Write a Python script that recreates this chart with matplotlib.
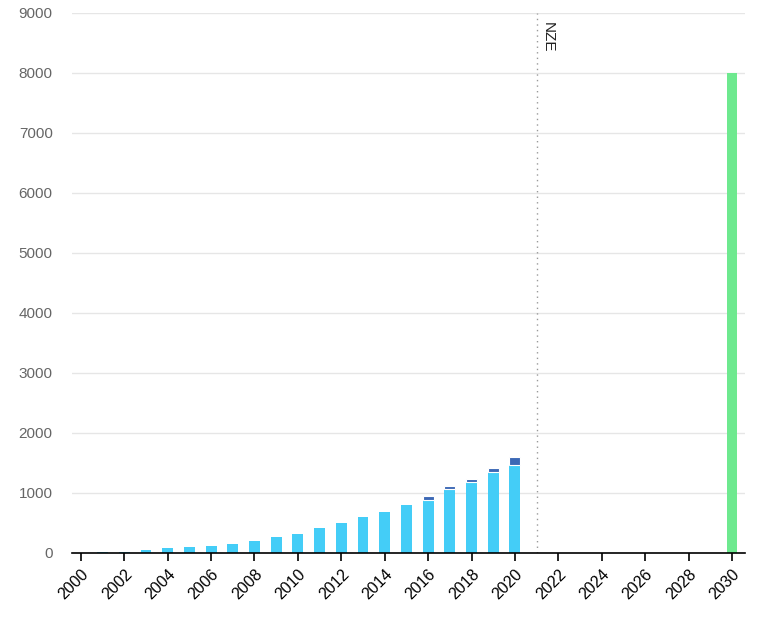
import numpy as np
import matplotlib.pyplot as plt

years = list(range(2001, 2021))
light = [20, 20, 50, 78, 95, 117, 155, 200, 267, 322, 417, 494, 605, 689, 794,
         890, 1070, 1190, 1345, 1470]
dark = [0, 0, 0, 0, 0, 0, 0, 0, 0, 0, 0, 0, 0, 0, 0,
        55, 45, 50, 70, 125]
nze_year = 2030
nze_value = 8000
marker_year = 2021
marker_label = 'NZE'

plt.rcParams['font.family'] = ['Liberation Sans', 'DejaVu Sans']

fig = plt.figure(figsize=(7.68, 6.4), dpi=100)
ax = fig.add_axes([0.094, 0.136, 0.876, 0.844])

ax.bar(years, light, width=0.5, color='#44cdf7', zorder=3)
dk = [d if d > 0 else np.nan for d in dark]
ax.bar(years, dk, width=0.5, bottom=light, color='#3c68b5', edgecolor='white',
       linewidth=0.8, zorder=3)
ax.bar([nze_year], [nze_value], width=0.5, color='#6ee98f', zorder=3)

ax.axvline(marker_year, color='#999999', linestyle=(0, (1, 3)), linewidth=1, zorder=2)
ax.text(marker_year + 0.2, 8850, marker_label, rotation=-90, ha='left', va='top',
        fontsize=11, color='#222222')

ax.set_xlim(1999.6, 2030.6)
ax.set_ylim(0, 9000)
ax.set_yticks(np.arange(0, 9001, 1000))
ax.set_xticks(np.arange(2000, 2031, 2))
ax.set_xticklabels([str(y) for y in range(2000, 2031, 2)], rotation=45,
                   ha='right', rotation_mode='anchor', fontsize=11.5)
ax.tick_params(axis='y', length=0, labelsize=11, labelcolor='#666666', pad=14)
ax.tick_params(axis='x', length=6, width=1.2, color='black', pad=4)
ax.grid(axis='y', color='#e6e6e6', linewidth=1, zorder=0)
for s in ['top', 'right', 'left']:
    ax.spines[s].set_visible(False)
ax.spines['bottom'].set_color('black')
ax.spines['bottom'].set_linewidth(1.2)
ax.spines['bottom'].set_zorder(4)

plt.savefig('out.png', dpi=100)
